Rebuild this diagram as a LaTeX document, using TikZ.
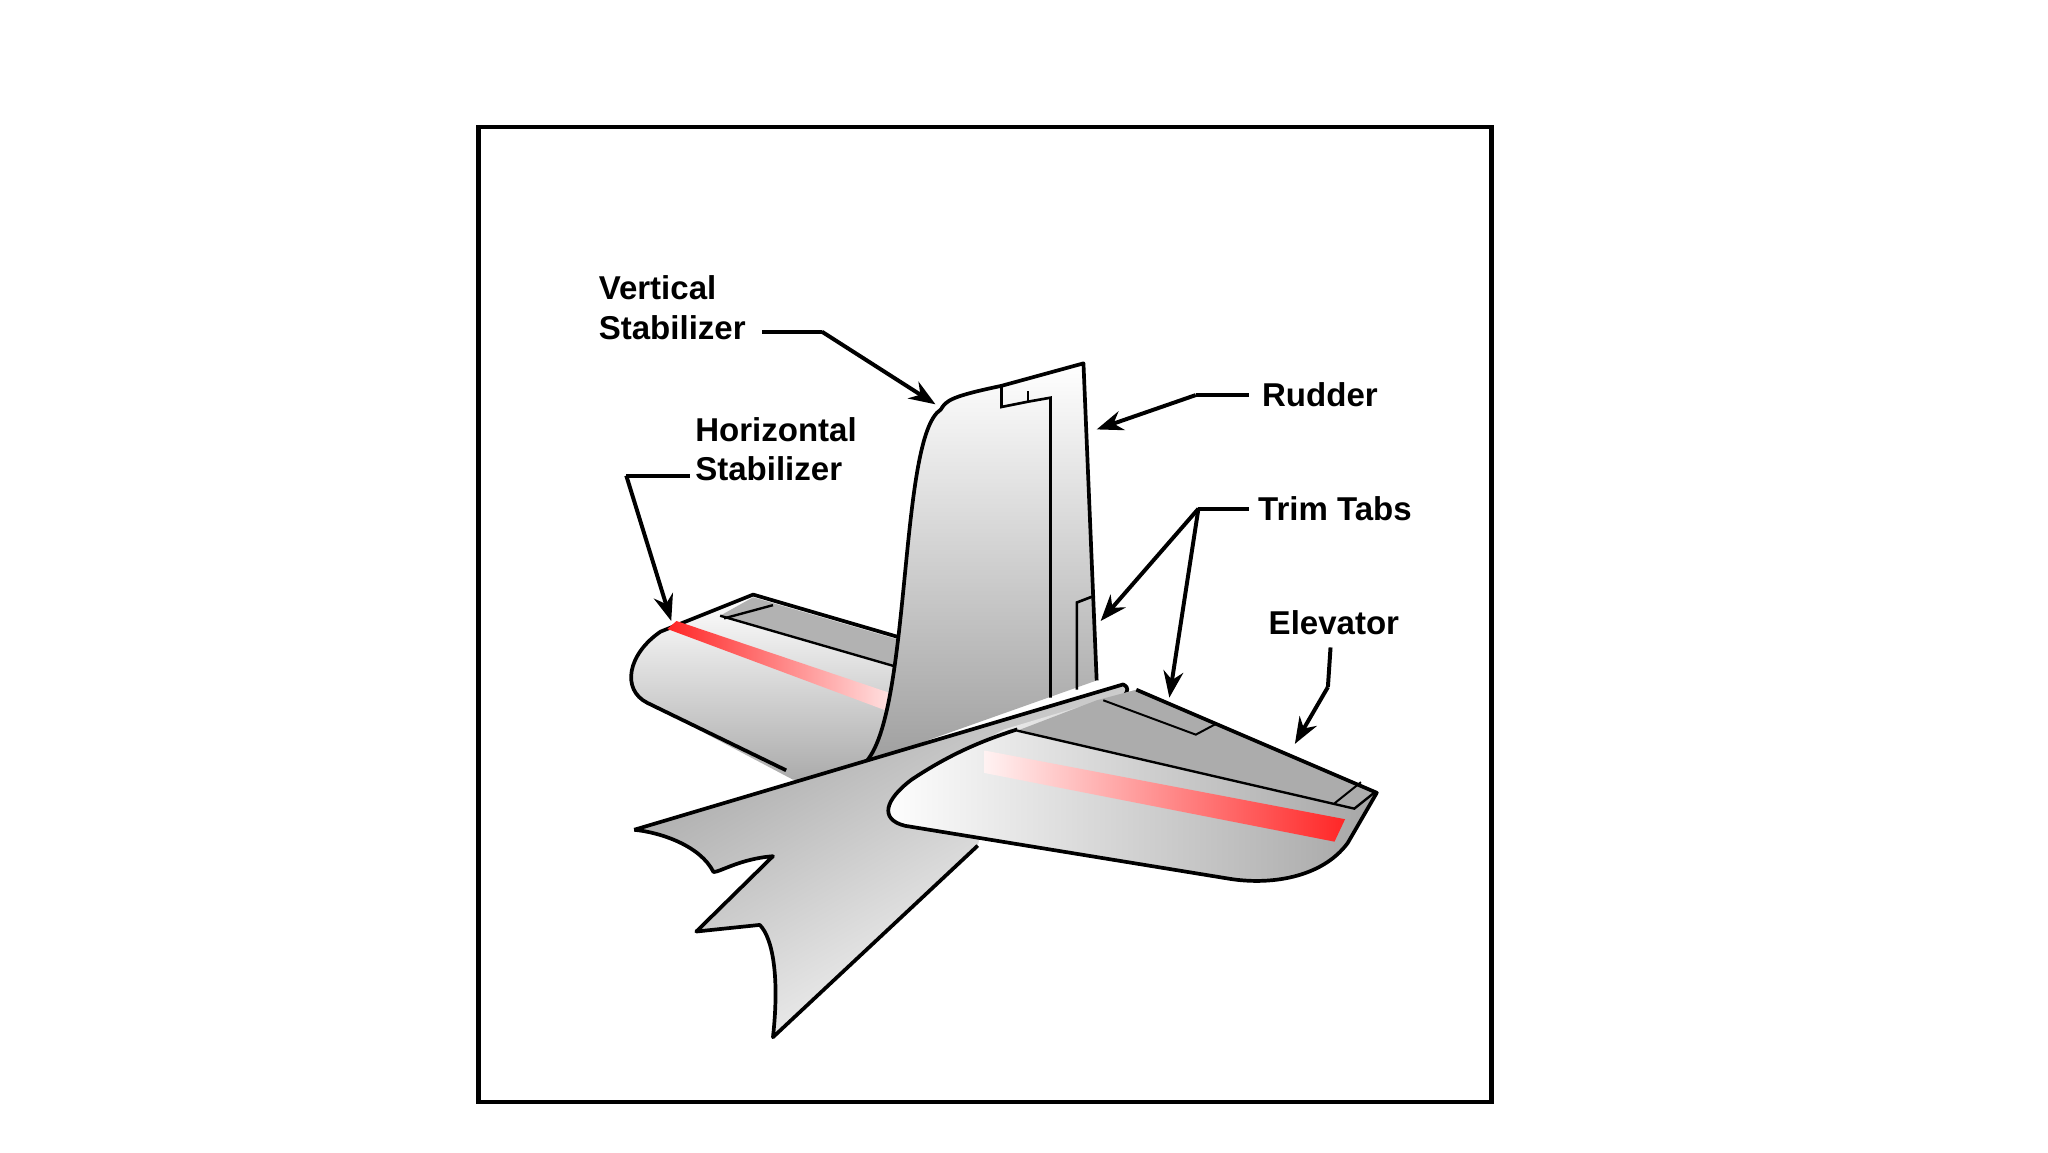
\documentclass[tikz,border=0pt]{standalone}
\usepackage{fontspec}
\setmainfont{Liberation Sans}
\usetikzlibrary{arrows.meta}
\begin{document}
\begin{tikzpicture}[x=1pt,y=-1pt,
  lbl/.style={font=\fontsize{25}{30}\selectfont\bfseries,anchor=west,inner sep=0pt,align=left},
  lead/.style={line width=3pt},
  arr/.style={line width=3pt,-{Stealth[length=20pt,width=15pt]}},
  outl/.style={line width=2.8pt,line join=round}]
\useasboundingbox (0,0) rectangle (1550,872);
\draw[line width=3.5pt] (362,96) rectangle (1129,834);
% left horizontal stabilizer
\path[left color=white,right color=gray!70,shading angle=0] (600,590) -- (490,532) .. controls (470,522) and (475,495) .. (500,478) -- (570,450) -- (700,488) -- (700,600) -- cycle;
\fill[gray!60] (545,466) -- (570,452) -- (700,490) -- (690,508) -- cycle;
\draw[outl] (595,583) -- (490,532) .. controls (470,522) and (475,495) .. (500,478) -- (570,450) -- (700,488);
\draw[line width=1.8pt] (545,466) -- (690,508);
\draw[line width=1.8pt] (548,468) -- (585,458);
\shade[left color=red!85,right color=red!5] (505,476) -- (512,470) -- (690,530) -- (690,545) -- cycle;
% vertical fin
\shade[top color=white,bottom color=gray!75] (655,577) .. controls (690,540) and (680,330) .. (712,310) .. controls (716,303) and (720,300) .. (758,292) -- (820,275) -- (830,515) -- cycle;
\draw[outl] (655,577) .. controls (690,540) and (680,330) .. (712,310) .. controls (716,303) and (720,300) .. (758,292) -- (820,275) -- (830,515);
\draw[line width=2pt] (758,292) -- (758,308) -- (778,304) -- (795,301) -- (795,528);
\draw[line width=2pt] (778,304) -- (778,296);
\draw[line width=2pt] (815,522) -- (815,456) -- (828,451);
% fuselage
\shade[left color=gray!70,right color=white,shading angle=30] (480,628) -- (850,518) .. controls (860,522) and (850,540) .. (760,560) -- (740,640) -- (585,785)
  .. controls (590,740) and (585,710) .. (575,700) -- (527,705) -- (585,648) .. controls (560,650) and (545,660) .. (540,660) .. controls (530,640) and (500,630) .. (480,628) -- cycle;
\draw[outl] (480,628) -- (850,518) .. controls (860,522) and (850,540) .. (760,560);
\draw[outl] (740,640) -- (585,785) .. controls (590,740) and (585,710) .. (575,700) -- (527,705) -- (585,648) .. controls (560,650) and (545,660) .. (540,660) .. controls (530,640) and (500,630) .. (480,628);
% right stabilizer
\shade[left color=white,right color=gray!70] (860,522) -- (1042,600) -- (1020,638) .. controls (1000,665) and (960,670) .. (930,665) -- (685,625) .. controls (665,620) and (670,605) .. (690,590) -- (760,552) -- cycle;
\fill[gray!65] (830,530) -- (860,522) -- (1042,600) -- (1025,612) -- (770,553) -- cycle;
\shade[left color=red!5,right color=red!85] (745,568) -- (1018,620) -- (1010,637) -- (745,585) -- cycle;
\draw[outl] (860,522) -- (1042,600) -- (1020,638) .. controls (1000,665) and (960,670) .. (930,665) -- (685,625) .. controls (665,620) and (670,605) .. (690,590) .. controls (720,570) and (745,560) .. (770,552);
\draw[line width=1.8pt] (770,553) -- (1025,612) -- (1040,600);
\draw[line width=1.5pt] (835,530) -- (905,556) -- (920,548);
\draw[line width=1.5pt] (1010,608) -- (1030,592);
% labels
\node[lbl] (vs) at (453,233) {Vertical\\Stabilizer};
\node[lbl] (ru) at (955,299) {Rudder};
\node[lbl] (hs) at (526,340) {Horizontal\\Stabilizer};
\node[lbl] (tt) at (952,385) {Trim Tabs};
\node[lbl] (el) at (960,471) {Elevator};
\coordinate (vs1) at (622,251); \coordinate (vst) at (708,306);
\draw[lead] (577,251) -- (vs1); \draw[arr] (vs1) -- (vst);
\coordinate (ru1) at (905,299); \coordinate (rut) at (830,325);
\draw[lead] (945,299) -- (ru1); \draw[arr] (ru1) -- (rut);
\coordinate (hs1) at (474,360); \coordinate (hst) at (508,470);
\draw[lead] (522,360) -- (hs1); \draw[arr] (hs1) -- (hst);
\coordinate (tt1) at (907,385);
\draw[lead] (945,385) -- (tt1); \draw[arr] (tt1) -- (833,470); \draw[arr] (tt1) -- (885,528);
\coordinate (el1) at (1007,490); \coordinate (el2) at (1005,520);
\draw[lead] (el1) -- (el2); \draw[arr] (el2) -- (980,563);
\end{tikzpicture}
\end{document}
